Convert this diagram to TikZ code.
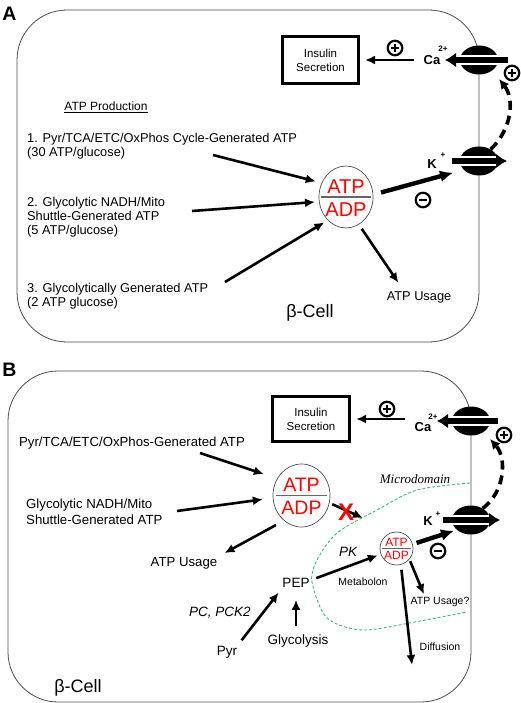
\documentclass[tikz,border=0pt]{standalone}
\usepackage{fontspec}
\setmainfont{Liberation Sans}
\newfontfamily\timesfont{Liberation Serif}
\usetikzlibrary{arrows.meta,shapes.geometric}
\definecolor{microgreen}{RGB}{60,185,120}

\begin{document}
\begin{tikzpicture}[x=1pt,y=-1pt,>={Latex[length=10pt,width=9pt]},
  cell/.style={draw=black!70,line width=0.8pt,rounded corners=50pt},
  arr/.style={->,line width=2.6pt},
  fatarr/.style={->,line width=4.4pt,>={Latex[length=13pt,width=12pt]}},
  chanarr/.style={->,line width=5.5pt,>={Latex[length=11pt,width=15pt]}},
  dasharr/.style={->,line width=3.6pt,dash pattern=on 9pt off 6pt,>={Latex[length=10pt,width=10pt]}},
  chan/.style={ellipse,fill=black,minimum width=38pt,minimum height=29pt,inner sep=0pt},
  ratio/.style={ellipse,draw=black!70,line width=0.7pt,inner sep=0pt},
  redtxt/.style={red,inner sep=0pt,anchor=base},
  fracline/.style={draw=black!60,line width=1.4pt},
  signnode/.style={circle,draw,line width=2.2pt,minimum size=14.5pt,inner sep=0pt},
  plus/.style={signnode,path picture={\draw[line width=2.2pt]
    ([xshift=-4pt]path picture bounding box.center) -- ([xshift=4pt]path picture bounding box.center)
    ([yshift=-4pt]path picture bounding box.center) -- ([yshift=4pt]path picture bounding box.center);}},
  minus/.style={signnode,path picture={\draw[line width=2.2pt]
    ([xshift=-4pt]path picture bounding box.center) -- ([xshift=4pt]path picture bounding box.center);}},
  box/.style={draw,line width=2.6pt,align=center,inner sep=0pt,font=\fontsize{11.5}{14.2}\selectfont},
  panel/.style={inner sep=0pt,font=\bfseries\fontsize{19.5}{20}\selectfont},
  ion/.style={inner sep=0pt,font=\bfseries\fontsize{13}{13}\selectfont},
  sup/.style={inner sep=0pt,font=\bfseries\fontsize{8}{8}\selectfont},
  txtA/.style={inner sep=0pt,align=left,font=\fontsize{12.8}{14}\selectfont},
  txtB/.style={inner sep=0pt,align=left,font=\fontsize{13.2}{16}\selectfont},
  small/.style={inner sep=0pt,font=\fontsize{10.5}{12}\selectfont},
  cellname/.style={inner sep=0pt,font=\fontsize{18}{18}\selectfont},
]
\useasboundingbox (0,0) rectangle (520,703);

% ---------- panel A ----------
\node[panel] (labA) at (9.5,14) {A};
\draw[cell] (17,10) rectangle (479,342);
\node[chan] (caA) at (479,60) {};
\node[chan] (kA) at (479,161) {};
\fill[white] ([shift={(-22pt,-5pt)}]caA.center) rectangle ([shift={(22pt,5pt)}]caA.center);
\fill[white] ([shift={(-22pt,-5pt)}]kA.center) rectangle ([shift={(22pt,5pt)}]kA.center);
\draw[chanarr] ([xshift=29pt]caA.center) -- ([xshift=-34pt]caA.center);
\draw[chanarr] ([xshift=-27pt]kA.center) -- ([xshift=28pt]kA.center);

\node[ion] (caLabA) at (432,60) {Ca};
\node[sup] (caSupA) at (443,49) {2+};
\node[ion] (kLabA) at (432,164) {K};
\node[sup] (kSupA) at (443,155) {+};

\node[box,minimum width=76.5pt,minimum height=47.5pt] (insA) at (320.5,60) {Insulin\\Secretion};
\draw[arr,shorten <=9pt,shorten >=5pt] (caLabA.west |- insA.east) -- (insA.east);
\node[plus] (upA) at (395,48) {};
\node[plus] (upA2) at (512,73) {};
\node[minus] (downA) at (423,200) {};

\coordinate (dashTipA) at (499,79);
\draw[dasharr] (kA.45) .. controls (513,128) and (514,98) .. (dashTipA);

\node[txtA,font=\fontsize{12}{14}\selectfont] (prodA) at (106,107) {\underline{ATP Production}};
\node[txtA,anchor=west] (srcA1) at (27,146) {1. Pyr/TCA/ETC/OxPhos Cycle-Generated ATP\\(30 ATP/glucose)};
\node[txtA,anchor=west] (srcA2) at (27,217) {2. Glycolytic NADH/Mito\\Shuttle-Generated ATP\\(5 ATP/glucose)};
\node[txtA,anchor=west] (srcA3) at (27,296) {3. Glycolytically Generated ATP\\(2 ATP glucose)};
\coordinate (s1A) at (213,155);
\coordinate (s2A) at (192,211);
\coordinate (s3A) at (225,282);

\node[ratio,minimum width=54pt,minimum height=62pt] (ratioA) at (346,197) {};
\node[redtxt,font=\fontsize{20}{20}\selectfont] (atpA) at (346,193.3) {ATP};
\node[redtxt,font=\fontsize{20}{20}\selectfont] (adpA) at (346,216.7) {ADP};
\draw[fracline] ([xshift=2pt]ratioA.west) -- ([xshift=-2pt]ratioA.east);

\draw[arr,shorten >=6pt] (s1A) -- (ratioA.150);
\draw[arr,shorten >=4pt] (s2A) -- (ratioA.190);
\draw[arr,shorten >=4pt] (s3A) -- (ratioA.232);
\draw[fatarr,shorten <=8pt,shorten >=11pt] (ratioA.5) -- (kA.210);

\node[txtA] (usageA) at (419,297) {ATP Usage};
\draw[arr,shorten <=5pt,shorten >=10pt] (ratioA.295) -- ([xshift=-15pt]usageA.north);
\node[cellname] (cellA) at (310,313) {β-Cell};

% ---------- panel B ----------
\node[panel] (labB) at (9.5,370) {B};
\draw[cell] (8,371) rectangle (471,702);
\node[chan] (caB) at (471,421) {};
\node[chan] (kB) at (471,520) {};
\fill[white] ([shift={(-22pt,-5pt)}]caB.center) rectangle ([shift={(22pt,5pt)}]caB.center);
\fill[white] ([shift={(-22pt,-5pt)}]kB.center) rectangle ([shift={(22pt,5pt)}]kB.center);
\draw[chanarr] ([xshift=27pt]caB.center) -- ([xshift=-34pt]caB.center);
\draw[chanarr] ([xshift=-28pt]kB.center) -- ([xshift=29pt]kB.center);

\node[ion] (caLabB) at (423,427) {Ca};
\node[sup] (caSupB) at (433,417) {2+};
\node[ion] (kLabB) at (428,521) {K};
\node[sup] (kSupB) at (438,514) {+};

\node[box,minimum width=77.5pt,minimum height=45.5pt] (insB) at (311,419) {Insulin\\Secretion};
\draw[arr,shorten <=9pt,shorten >=5pt] (caLabB.west |- insB.east) -- (insB.east);
\node[plus] (upB) at (387,409) {};
\node[plus] (upB2) at (504,435) {};

\coordinate (dashTipB) at (490,439);
\draw[dasharr] (kB.45) .. controls (505,492) and (507,458) .. (dashTipB);

% microdomain
\draw[microgreen,line width=0.9pt,dash pattern=on 3pt off 2pt] plot[smooth] coordinates
  {(470,483) (417,490) (377,510) (337,533) (317,560) (312,582) (327,618) (363,630) (420,621) (467,612)};
\node[inner sep=0pt,font=\timesfont\itshape\fontsize{13}{13}\selectfont] (microLab) at (415,479) {Microdomain};

\node[txtB] (srcB1) at (132,443) {Pyr/TCA/ETC/OxPhos-Generated ATP};
\node[txtB,anchor=west] (srcB2) at (26,512) {Glycolytic NADH/Mito\\Shuttle-Generated ATP};
\coordinate (s1B) at (200,453);
\coordinate (s2B) at (177,511);

\node[ratio,minimum width=57pt,minimum height=63pt] (ratioB) at (301.5,495.5) {};
\node[redtxt,font=\fontsize{19.5}{20}\selectfont] (atpB) at (301.5,491.7) {ATP};
\node[redtxt,font=\fontsize{19.5}{20}\selectfont] (adpB) at (301.5,514) {ADP};
\draw[fracline] ([xshift=3pt]ratioB.west) -- ([xshift=-3pt]ratioB.east);

\draw[arr,shorten >=14pt] (s1B) -- (ratioB.145);
\draw[arr,shorten >=10pt] (s2B) -- (ratioB.185);
\node[txtB] (usageB) at (184,563) {ATP Usage};
\draw[arr,shorten <=9pt,shorten >=8pt] (ratioB.235) -- (usageB.north east);

\coordinate (xTip) at (363,518);
\draw[arr,shorten <=3pt] (ratioB.-15) -- (xTip);
\node[inner sep=0pt,red,font=\bfseries\fontsize{24}{24}\selectfont] (xMark) at (346,512) {X};

\node[ratio,minimum width=33pt,minimum height=33pt] (rS) at (396.5,548.5) {};
\node[redtxt,font=\fontsize{12}{12}\selectfont] (atpS) at (396.5,546) {ATP};
\node[redtxt,font=\fontsize{12}{12}\selectfont] (adpS) at (396.5,559.3) {ADP};
\draw[fracline,line width=1pt] ([xshift=2pt]rS.west) -- ([xshift=-2pt]rS.east);

\draw[fatarr,shorten <=4pt,shorten >=3pt] (rS.15) -- (kB.215);
\node[minus] (downB) at (438,551) {};

\node[txtB,font=\fontsize{13.5}{16}\selectfont] (pep) at (296,583) {PEP};
\node[txtB,font=\itshape\fontsize{13.5}{16}\selectfont] (pkLab) at (348,552) {PK};
\node[small] (metab) at (363,582) {Metabolon};
\draw[arr,shorten <=7pt,shorten >=3pt] (pep.10) -- (rS.200);

\node[small] (usageS) at (440,602) {ATP Usage?};
\draw[arr,shorten <=2pt,shorten >=3pt] (rS.-40) -- ([xshift=-15pt]usageS.north);
\coordinate (diffTip) at (412,665);
\draw[arr,shorten <=5pt] (rS.-75) -- (diffTip);
\node[small] (diffLab) at (440,647) {Diffusion};

\node[txtB,font=\fontsize{13.5}{16}\selectfont] (pyr) at (227,652) {Pyr};
\node[txtB,font=\itshape\fontsize{13.5}{16}\selectfont] (pcLab) at (220,613) {PC, PCK2};
\node[txtB,font=\fontsize{13.5}{16}\selectfont] (glyc) at (298,641) {Glycolysis};
\draw[arr,shorten <=7pt,shorten >=6pt] (pyr.north east) -- (pep.south west);
\draw[arr,shorten <=9pt,shorten >=12pt] (glyc.north -| pep.south) -- (pep.south);

\node[cellname] (cellB) at (78,688) {β-Cell};
\end{tikzpicture}
\end{document}
